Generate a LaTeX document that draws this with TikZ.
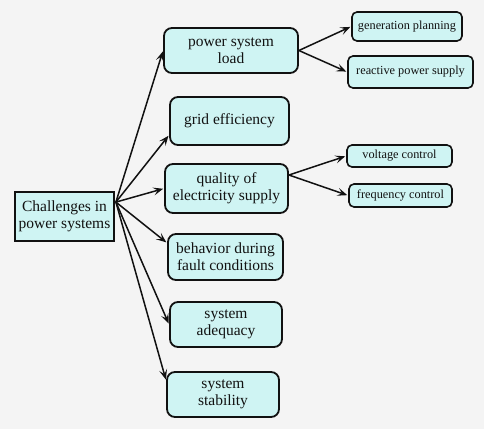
\documentclass[tikz,border=0pt]{standalone}
\usepackage{fontspec}
\setmainfont{Liberation Serif}
\usetikzlibrary{arrows.meta,calc}
\definecolor{bg}{HTML}{F4F4F4}
\definecolor{boxfill}{HTML}{CFF4F3}
\definecolor{ink}{HTML}{111111}
\tikzset{
  base/.style={draw=ink, fill=boxfill, line width=1.8pt, align=center, inner sep=0pt, text=ink},
  mainbox/.style={base, rounded corners=8pt, font=\fontsize{15.5}{17}\selectfont},
  rootbox/.style={base, font=\fontsize{15.5}{17}\selectfont},
  subbox/.style={base, rounded corners=5pt, line width=1.6pt, font=\fontsize{12.3}{14}\selectfont},
  conn/.style={draw=ink, line width=1.5pt, -{Stealth[length=10pt,width=8pt,inset=4.5pt]}, shorten >=1pt}
}
\begin{document}
\begin{tikzpicture}[x=1pt,y=1pt]
\fill[bg] (0,0) rectangle (484,429);
\useasboundingbox (0,0) rectangle (484,429);
\node[rootbox, minimum width=99pt, minimum height=49pt] (root) at (64.5,212.5) {Challenges in\\power systems};
\node[mainbox, minimum width=134pt, minimum height=45pt] (psl) at (231,378.5) {power system\\load};
\node[mainbox, minimum width=119pt, minimum height=48pt] (grid) at (229.5,308) {grid efficiency};
\node[mainbox, minimum width=123pt, minimum height=49pt] (qual) at (226.5,240.5) {quality of\\electricity supply};
\node[mainbox, minimum width=115pt, minimum height=46pt] (beh) at (225.5,172) {behavior during\\fault conditions};
\node[mainbox, minimum width=112pt, minimum height=45pt] (adeq) at (226,104.5) {system\\adequacy};
\node[mainbox, minimum width=112pt, minimum height=45pt] (stab) at (223,34.5) {system\\stability};
\node[subbox, minimum width=110pt, minimum height=29pt] (gen) at (407,402.5) {generation planning};
\node[subbox, minimum width=125pt, minimum height=32pt] (react) at (410.5,357) {reactive power supply};
\node[subbox, minimum width=105pt, minimum height=22pt] (volt) at (399.5,273) {voltage control};
\node[subbox, minimum width=103pt, minimum height=23pt] (freq) at (400.5,233.5) {frequency control};
\coordinate (o) at ($(root.north east)+(1,-11)$);
\coordinate (q) at ($(qual.east)+(0,13.5)$);
\draw[conn] (o) -- (psl.west);
\draw[conn] (o) -- ($(grid.west)+(0,-14)$);
\draw[conn] (o) -- (qual.west);
\draw[conn] (o) -- ($(beh.west)+(0,14)$);
\draw[conn] (o) -- (adeq.west);
\draw[conn] (o) -- ($(stab.west)+(0,14)$);
\draw[conn] (psl.east) -- (gen.west);
\draw[conn] (psl.east) -- (react.west);
\draw[conn] (q) -- (volt.west);
\draw[conn] (q) -- (freq.west);
\end{tikzpicture}
\end{document}
